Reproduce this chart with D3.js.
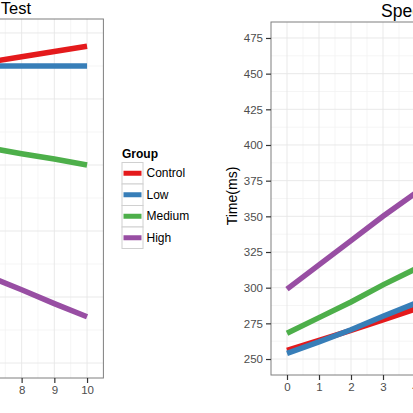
<!DOCTYPE html>
<html>
<head>
<meta charset="utf-8">
<script src="https://cdn.jsdelivr.net/npm/d3@7"></script>
<style>
  body { margin: 0; background: #fff; }
  svg { display: block; font-family: "Liberation Sans", Arial, sans-serif; }
</style>
</head>
<body>
<div id="container"></div>
<script>
// data
var groups = ["Control", "Low", "Medium", "High"];
var colors = ["#E41A1C", "#377EB8", "#4DAF4A", "#984EA3"];
var xs = [0, 1, 2, 3, 4, 5, 6, 7, 8, 9, 10];

// left panel ("... Test"), y axis not visible, values in panel units
var testControl = [40.1, 40.9, 41.7, 42.5, 43.3, 44.1, 44.8, 45.6, 46.4, 47.2, 48.0];
var testLow     = [45.0, 45.0, 45.0, 45.0, 45.0, 45.0, 45.0, 45.0, 45.0, 45.0, 45.0];
var testMedium  = [38.6, 37.7, 36.9, 36.0, 35.2, 34.3, 33.4, 32.6, 31.7, 30.9, 30.0];
var testHigh    = [27.4, 25.4, 23.3, 21.3, 19.2, 17.2, 15.2, 13.1, 11.1, 9.0, 7.0];

// right panel ("Speed"), Time(ms)
var speedControl = [256, 263, 270, 277.5, 285, 292, 299, 306, 313, 320, 327];
var speedLow     = [254, 262, 270.5, 280, 289, 298, 307, 316, 325, 334, 343];
var speedMedium  = [268, 279, 290, 302, 313, 324, 335, 346, 357, 368, 379];
var speedHigh    = [299, 316, 333, 350, 366, 383, 399, 416, 432, 449, 465];

var xTicks = [0, 1, 2, 3, 4, 5, 6, 7, 8, 9, 10];
var timeTicks = [250, 275, 300, 325, 350, 375, 400, 425, 450, 475];
var testTicks = [0, 10, 20, 30, 40, 50];

var W = 413, H = 413;
var svg = d3.select('#container').append('svg')
  .attr('width', W).attr('height', H);

function drawPanel(opt) {
  var x = opt.x, y = opt.y;
  var g = svg.append('g');
  var x0 = x.range()[0], x1 = x.range()[1];
  var y0 = y.range()[1], y1 = y.range()[0];

  g.append('rect')
    .attr('x', x0).attr('y', y0)
    .attr('width', x1 - x0).attr('height', y1 - y0)
    .attr('fill', '#fff');

  // minor grid
  var xMinor = xTicks.slice(0, -1).map(function(d) { return d + 0.5; });
  var yStep = opt.yTicks[1] - opt.yTicks[0];
  var yMinor = opt.yTicks.map(function(d) { return d + yStep / 2; })
    .concat([opt.yTicks[0] - yStep / 2])
    .filter(function(d) { return d > y.domain()[0] && d < y.domain()[1]; });

  g.selectAll('line.vminor').data(xMinor).enter().append('line')
    .attr('x1', function(d) { return x(d); }).attr('x2', function(d) { return x(d); })
    .attr('y1', y0).attr('y2', y1)
    .attr('stroke', '#f2f2f2').attr('stroke-width', 0.8);
  g.selectAll('line.hminor').data(yMinor).enter().append('line')
    .attr('y1', function(d) { return y(d); }).attr('y2', function(d) { return y(d); })
    .attr('x1', x0).attr('x2', x1)
    .attr('stroke', '#f2f2f2').attr('stroke-width', 0.8);

  // major grid
  g.selectAll('line.vmajor').data(xTicks).enter().append('line')
    .attr('x1', function(d) { return x(d); }).attr('x2', function(d) { return x(d); })
    .attr('y1', y0).attr('y2', y1)
    .attr('stroke', '#e6e6e6').attr('stroke-width', 0.9);
  g.selectAll('line.hmajor').data(opt.yTicks).enter().append('line')
    .attr('y1', function(d) { return y(d); }).attr('y2', function(d) { return y(d); })
    .attr('x1', x0).attr('x2', x1)
    .attr('stroke', '#e6e6e6').attr('stroke-width', 0.9);

  var line = d3.line()
    .x(function(d, i) { return x(xs[i]); })
    .y(function(d) { return y(d); });

  opt.series.forEach(function(s, i) {
    g.append('path')
      .datum(s)
      .attr('d', line)
      .attr('fill', 'none')
      .attr('stroke', colors[i])
      .attr('stroke-width', 5.5);
  });

  g.append('rect')
    .attr('x', x0).attr('y', y0)
    .attr('width', x1 - x0).attr('height', y1 - y0)
    .attr('fill', 'none').attr('stroke', '#7f7f7f').attr('stroke-width', 1);

  // x axis
  var xa = g.append('g').attr('transform', 'translate(0,' + y1 + ')')
    .call(d3.axisBottom(x).tickValues(xTicks).tickSize(5).tickPadding(3).tickFormat(d3.format('d')));
  xa.select('.domain').remove();
  xa.selectAll('line').attr('stroke', '#333').attr('stroke-width', 1.2);
  xa.selectAll('text').attr('fill', '#4d4d4d')
    .style('font-size', '11.5px').style('font-family', '"Liberation Sans", Arial, sans-serif');

  // y axis (the left panel's one lies outside the picture)
  if (x0 > 0) {
    var ya = g.append('g').attr('transform', 'translate(' + x0 + ',0)')
      .call(d3.axisLeft(y).tickValues(opt.yTicks).tickSize(5).tickPadding(3));
    ya.select('.domain').remove();
    ya.selectAll('line').attr('stroke', '#333').attr('stroke-width', 1.2);
    ya.selectAll('text').attr('fill', '#4d4d4d')
      .style('font-size', '11.5px').style('font-family', '"Liberation Sans", Arial, sans-serif');
  }

  return g;
}

// left panel
var xLeft = d3.scaleLinear().domain([-0.5, 10.5]).range([-256.4, 103.4]);
var yLeft = d3.scaleLinear().domain([-2.27, 52.12]).range([378, 19]);
drawPanel({ x: xLeft, y: yLeft, yTicks: testTicks,
  series: [testControl, testLow, testMedium, testHigh] });

svg.append('text')
  .attr('x', 31).attr('y', 14)
  .attr('text-anchor', 'end')
  .style('font-size', '16.5px').attr('fill', '#000')
  .text('Test');

// right panel
var xRight = d3.scaleLinear().domain([-0.5, 10.5]).range([271, 623]);
var yRight = d3.scaleLinear().domain([238.8, 486.2]).range([375, 22]);
drawPanel({ x: xRight, y: yRight, yTicks: timeTicks,
  series: [speedControl, speedLow, speedMedium, speedHigh] });

svg.append('text')
  .attr('x', 381).attr('y', 17)
  .style('font-size', '17.5px').attr('fill', '#000')
  .text('Speed');

svg.append('text')
  .attr('transform', 'translate(237,196) rotate(-90)')
  .attr('text-anchor', 'middle')
  .style('font-size', '14px').attr('fill', '#000')
  .text('Time(ms)');

// legend
var legend = svg.append('g').attr('transform', 'translate(122,0)');
legend.append('text')
  .attr('x', 0).attr('y', 157.5)
  .style('font-size', '12px').style('font-weight', 'bold')
  .text('Group');

var keyH = 21.5, keyTop = 162.5;
var keys = legend.selectAll('g.key').data(groups).enter().append('g')
  .attr('class', 'key')
  .attr('transform', function(d, i) { return 'translate(0,' + (keyTop + i * keyH) + ')'; });
keys.append('rect')
  .attr('x', 0).attr('y', 0).attr('width', 21).attr('height', keyH)
  .attr('fill', '#fff').attr('stroke', '#d0d0d0').attr('stroke-width', 1);
keys.append('line')
  .attr('x1', 1.5).attr('x2', 19.5)
  .attr('y1', keyH / 2).attr('y2', keyH / 2)
  .attr('stroke', function(d, i) { return colors[i]; })
  .attr('stroke-width', 5);
keys.append('text')
  .attr('x', 24.5).attr('y', keyH / 2)
  .attr('dy', '0.35em')
  .style('font-size', '12px').attr('fill', '#000')
  .text(function(d) { return d; });
</script>
</body>
</html>
